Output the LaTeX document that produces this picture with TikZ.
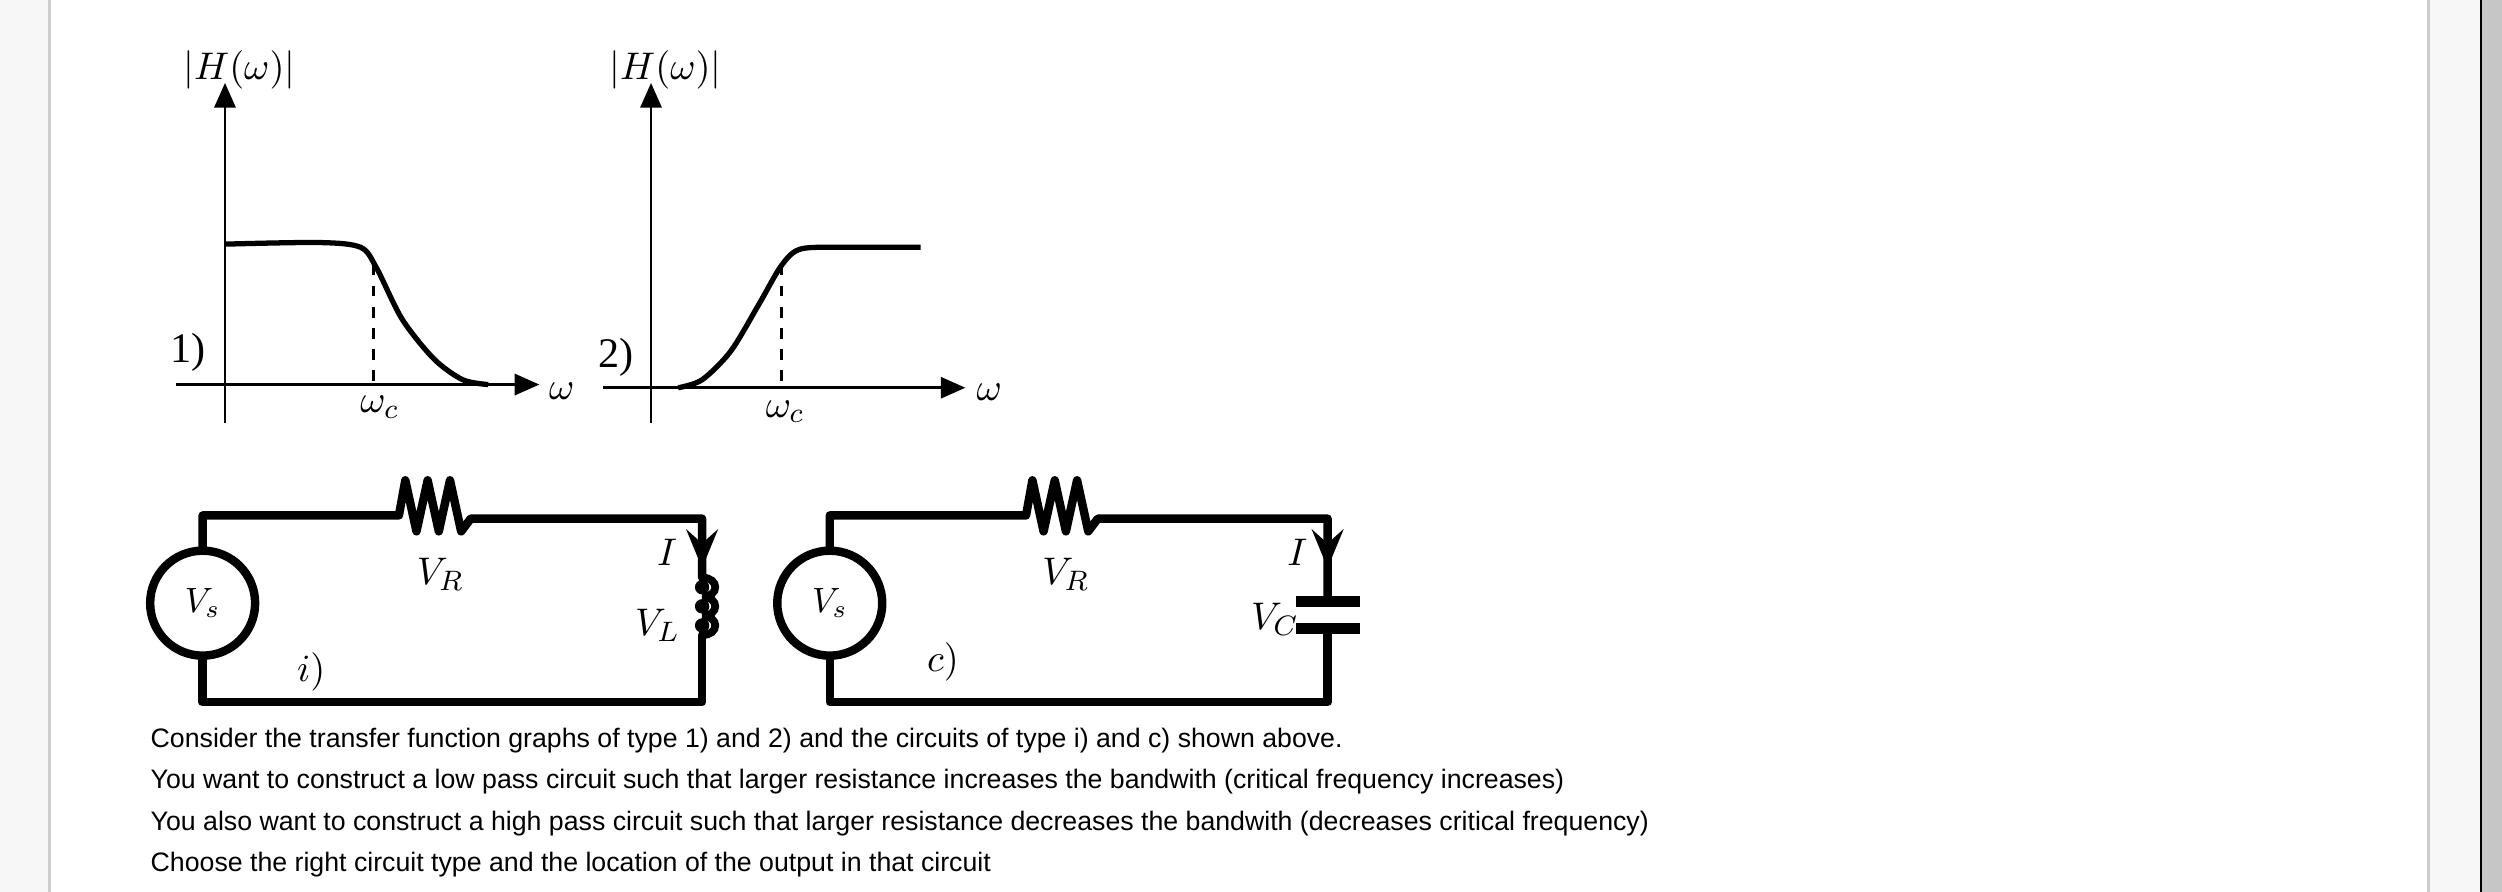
\documentclass[tikz,border=0pt]{standalone}
\usepackage{fontspec}
\setmainfont{Liberation Sans}
\newfontfamily\serifnum{Liberation Serif}
\usetikzlibrary{arrows.meta,positioning}
\tikzset{
  axis/.style={line width=0.8pt,-{Triangle[length=7pt,width=6pt]}},
  curve/.style={line width=1.5pt},
  wire/.style={line width=2.4pt,line cap=round,line join=round},
  lbl/.style={font=\fontsize{11}{13}\selectfont},
  num/.style={font=\fontsize{12}{14}\selectfont\serifnum},
  src/.style={circle,draw,line width=2.4pt,minimum size=1.05cm,inner sep=0pt},
  txt/.style={anchor=west,font=\fontsize{7.6}{9}\selectfont,inner sep=0pt}
}
\begin{document}
\begin{tikzpicture}[x=0.01596cm,y=-0.01596cm]
\useasboundingbox (0,0) rectangle (1568,559);
% page background and margins
\fill[gray!6] (0,0) rectangle (31,559);
\fill[gray!6] (1522,0) rectangle (1555,559);
\fill[gray!45] (1555,0) rectangle (1568,559);
\draw[gray!40,line width=1pt] (31,0) -- (31,559);
\draw[gray!40,line width=1pt] (1522,0) -- (1522,559);
\draw[black,line width=0.6pt] (1555,0) -- (1555,559);

% graph 1
\draw[axis] (141,265) -- (141,52);
\draw[axis] (110,241) -- (338,241);
\node[lbl] (h1) at (150,44) {$|H(\omega)|$};
\node[num] (n1) at (118,221) {1)};
\node[lbl] (w1) at (352,245) {$\omega$};
\node[lbl] (wc1) at (238,255) {$\omega_c$};
\draw[curve] plot[smooth] coordinates {(141,153) (200,152) (226,155) (236,168) (252,200) (272,225) (290,238) (306,241)};
\draw[dashed,thick] (234,166) -- (234,241);

% graph 2
\draw[axis] (408,265) -- (408,52);
\draw[axis] (378,243) -- (605,243);
\node[lbl] (h2) at (417,44) {$|H(\omega)|$};
\node[num] (n2) at (386,224) {2)};
\node[lbl] (w2) at (620,246) {$\omega$};
\node[lbl] (wc2) at (492,258) {$\omega_c$};
\draw[curve] plot[smooth] coordinates {(425,243) (440,238) (458,220) (476,190) (490,166) (502,156) (530,155) (577,155)};
\draw[dashed,thick] (490,166) -- (490,243);

% circuit i)
\node[src] (vs1) at (127,378) {$V_s$};
\coordinate (tl1) at (127,323);
\coordinate (tr1) at (440,325);
\coordinate (bl1) at (127,440);
\coordinate (br1) at (440,440);
\draw[wire] (vs1) -- (tl1) -- (250,323) -- (254,301) -- (261,333) -- (268,301) -- (275,333) -- (282,301) -- (289,333) -- (295,325) -- (tr1) -- (440,362);
\draw[wire] (440,398) -- (br1) -- (bl1) -- (vs1);
\draw[line width=2.2pt] (440,362) .. controls (451,362) and (451,374) .. (440,374)
  .. controls (451,374) and (451,386) .. (440,386)
  .. controls (451,386) and (451,398) .. (440,398);
\foreach \yy in {368,380,392} \fill (440,\yy) circle (4.5);
\draw[line width=1.6pt,-{Stealth[length=11pt,width=9pt,inset=4pt]}] (440,330) -- (440,356);
\node[lbl] (i1) at (418,346) {$I$};
\node[lbl] (vr1) at (276,360) {$V_R$};
\node[lbl] (vl1) at (412,392) {$V_L$};
\node[lbl] (t1) at (195,421) {$i)$};

% circuit c)
\node[src] (vs2) at (520,378) {$V_s$};
\coordinate (tl2) at (520,323);
\coordinate (tr2) at (832,325);
\coordinate (bl2) at (520,440);
\coordinate (br2) at (832,440);
\draw[wire] (vs2) -- (tl2) -- (643,323) -- (647,301) -- (654,333) -- (661,301) -- (668,333) -- (675,301) -- (682,333) -- (688,325) -- (tr2) -- (832,377);
\draw[wire] (832,394) -- (br2) -- (bl2) -- (vs2);
\draw[line width=3pt] (812,377) -- (852,377) (812,394) -- (852,394);
\draw[line width=1.6pt,-{Stealth[length=11pt,width=9pt,inset=4pt]}] (832,330) -- (832,356);
\node[lbl] (i2) at (813,346) {$I$};
\node[lbl] (vr2) at (668,360) {$V_R$};
\node[lbl] (vc2) at (799,388) {$V_C$};
\node[lbl] (t2) at (591,415) {$c)$};

% question text
\node[txt] (q1) at (94,464) {Consider the transfer function graphs of type 1) and 2) and the circuits of type i) and c) shown above.};
\node[txt] (q2) at (94,490) {You want to construct a low pass circuit such that larger resistance increases the bandwith (critical frequency increases)};
\node[txt] (q3) at (94,516) {You also want to construct a high pass circuit such that larger resistance decreases the bandwith (decreases critical frequency)};
\node[txt] (q4) at (94,542) {Choose the right circuit type and the location of the output in that circuit};
\end{tikzpicture}
\end{document}
